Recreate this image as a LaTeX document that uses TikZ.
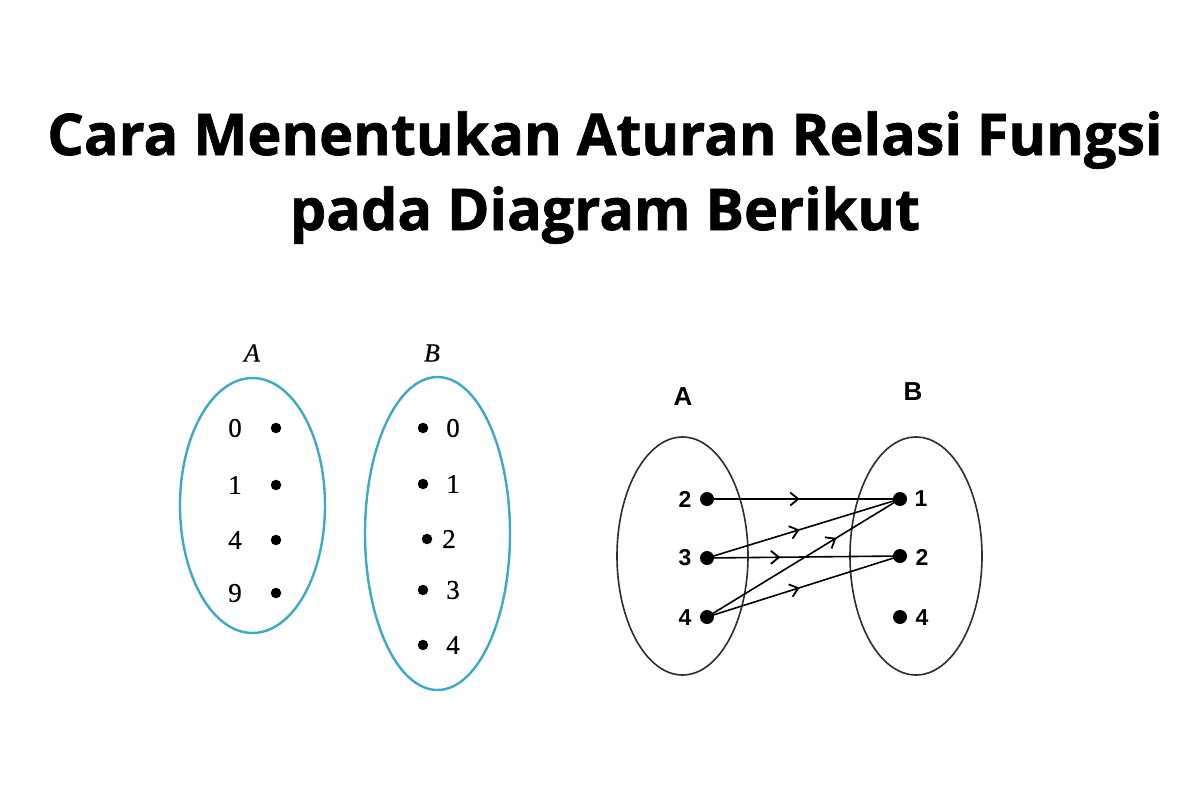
\documentclass[tikz,border=0pt]{standalone}
\usepackage{fontspec}
\setmainfont{Liberation Serif}
\newfontfamily\titlefont[BoldFeatures={FakeBold=1.2}]{Open Sans}
\newfontfamily\arialfont{Liberation Sans}
\newfontfamily\serifheavy[FakeBold=0.6]{Liberation Serif}
\usetikzlibrary{arrows.meta,decorations.markings}
\definecolor{setblue}{RGB}{58,170,200}
\definecolor{setgray}{RGB}{45,45,45}
\tikzset{
  blueset/.style={draw=setblue,line width=2.4pt},
  grayset/.style={draw=setgray,line width=1.6pt},
  ldot/.style={circle,fill=black,inner sep=0pt,minimum size=10.5pt},
  rdot/.style={circle,fill=black,inner sep=0pt,minimum size=14pt},
  lnum/.style={inner sep=0pt,font=\serifheavy\fontsize{27}{30}\selectfont},
  lset/.style={inner sep=0pt,font=\serifheavy\fontsize{26}{29}\selectfont\itshape},
  rnum/.style={inner sep=0pt,font=\arialfont\bfseries\fontsize{23}{26}\selectfont},
  rset/.style={inner sep=0pt,font=\arialfont\bfseries\fontsize{26}{29}\selectfont},
  maparrow/.style={line width=1.6pt,postaction={decorate},
    decoration={markings,mark=at position #1 with {\arrow{Straight Barb[length=8pt,width=13pt,line width=1.8pt]}}}},
}
\begin{document}
\begin{tikzpicture}[x=1pt,y=-1pt]
\useasboundingbox[fill=white] (0,0) rectangle (1200,800);
% title
\node[font=\titlefont\bfseries\fontsize{57.5}{75}\selectfont,align=center,anchor=base] (title1) at (605,155) {Cara Menentukan Aturan Relasi Fungsi};
\node[font=\titlefont\bfseries\fontsize{57.5}{75}\selectfont,align=center,anchor=base] (title2) at (605,230) {pada Diagram Berikut};
% left diagram
\draw[blueset] (252.5,505.5) ellipse [x radius=72.5,y radius=127.5];
\draw[blueset] (437.5,533.5) ellipse [x radius=72.5,y radius=156.5];
\node[lset] (la) at (252,353) {A};
\node[lset] (lb) at (432,353) {B};
\foreach \v/\y [count=\i] in {0/428,1/485,4/540,9/593}{
  \node[lnum] (lan\i) at (235,\y) {\v};
  \node[ldot] (lad\i) at (276,\y) {};
}
\foreach \v/\xd/\xl/\y [count=\i] in {0/423/453/428,1/423/453/484,2/427/449/539,3/423/453/590,4/423/453/645}{
  \node[ldot] (lbd\i) at (\xd,\y) {};
  \node[lnum] (lbn\i) at (\xl,\y) {\v};
}
% right diagram
\draw[grayset] (682.5,556) ellipse [x radius=65.5,y radius=119];
\draw[grayset] (916,556) ellipse [x radius=66,y radius=119];
\node[rset] (ra) at (683,397) {A};
\node[rset] (rb) at (913,392) {B};
\node[rnum] (ran2) at (685,499) {2};
\node[rnum] (ran3) at (685,558) {3};
\node[rnum] (ran4) at (685,618) {4};
\node[rdot] (rad2) at (707,499) {};
\node[rdot] (rad3) at (707,558) {};
\node[rdot] (rad4) at (707,617) {};
\node[rdot] (rbd1) at (900,499) {};
\node[rdot] (rbd2) at (900,556) {};
\node[rdot] (rbd4) at (900,617) {};
\node[rnum] (rbn1) at (921,499) {1};
\node[rnum] (rbn2) at (922,557) {2};
\node[rnum] (rbn4) at (922,618) {4};
\draw[maparrow=0.48] (rad2.center) -- (rbd1.center);
\draw[maparrow=0.48] (rad3.center) -- (rbd1.center);
\draw[maparrow=0.38] (rad3.center) -- (rbd2.center);
\draw[maparrow=0.67] (rad4.center) -- (rbd1.center);
\draw[maparrow=0.48] (rad4.center) -- (rbd2.center);
\end{tikzpicture}
\end{document}
